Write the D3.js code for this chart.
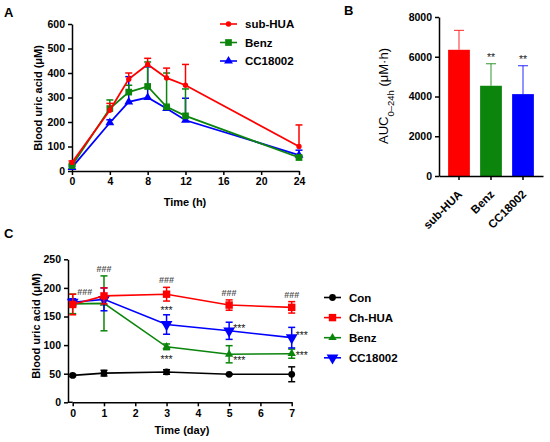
<!DOCTYPE html>
<html lang="en">
<head>
  <meta charset="utf-8">
  <script src="https://d3js.org/d3.v7.min.js"></script>
  <style>
    body { margin: 0; background: #fff; }
    svg text { font-family: "Liberation Sans", Arial, sans-serif; }
    .axis path, .axis line { stroke: #000; stroke-width: 1.5px; }
    .axis text { font-weight: bold; font-size: 10.5px; fill: #000; }
    .title { font-weight: bold; font-size: 11px; }
    .panel { font-weight: bold; font-size: 13px; }
    .legend { font-weight: bold; font-size: 11.5px; }
    .hash { font-size: 9px; fill: #555; font-weight: bold; }
    .star { font-size: 10.5px; fill: #222; }
  </style>
</head>
<body>
<svg id="chart" width="550" height="442"></svg>

<script>
  // ---- panel A data: blood uric acid over 24 h ----
  var aTime = [0, 4, 6, 8, 10, 12, 24];
  var aSubHUA = [35, 248, 375, 435, 380, 350, 100];
  var aSubHUAErr = [6, 28, 25, 25, 40, 85, 88];
  var aBenz = [22, 255, 322, 345, 262, 225, 55];
  var aBenzErr = [5, 35, 28, 100, 138, 110, 8];
  var aCC = [15, 197, 282, 300, 255, 207, 65];
  var aCCErr = [5, 12, 103, 125, 8, 90, 20];
  var aXTicks = [0, 4, 8, 12, 16, 20, 24];
  var aYTicks = [0, 100, 200, 300, 400, 500, 600];

  // ---- panel B data: AUC 0-24h ----
  var bGroups = ["sub-HUA", "Benz", "CC18002"];
  var bAUC = [6350, 4540, 4120];
  var bAUCErr = [975, 1110, 1430];
  var bStars = ["", "**", "**"];
  var bYTicks = [0, 2000, 4000, 6000, 8000];

  // ---- panel C data: 7-day treatment ----
  var cDays = [0, 1, 3, 5, 7];
  var cCon = [47, 51, 53, 49, 49];
  var cConErr = [2, 5, 4, 1, 13];
  var cHUA = [171, 186, 189, 170, 166];
  var cHUAErr = [18, 14, 12, 9, 10];
  var cBenz = [172, 173, 97, 84, 85];
  var cBenzErr = [17, 48, 5, 15, 8];
  var cCC = [175, 180, 136, 125, 113];
  var cCCErr = [6, 20, 17, 15, 18];
  var cXTicks = [0, 1, 2, 3, 4, 5, 6, 7];
  var cYTicks = [0, 50, 100, 150, 200, 250];

  var RED = "#ff0000", GREEN = "#0b850b", BLUE = "#0000ff", BLACK = "#000000";

  var svg = d3.select("#chart");
  var fmt = d3.format("d");

  function marker(type, size) {
    if (type === "tridown") return d3.symbol().type(d3.symbolTriangle).size(size)();
    return d3.symbol().type(type).size(size)();
  }

  // draw a series with line, error bars and markers
  function drawSeries(g, x, y, xs, ys, errs, opt) {
    var pts = xs.map(function(d, i) { return {x: d, y: ys[i], e: errs[i]}; });
    g.append("path")
      .datum(pts)
      .attr("fill", "none")
      .attr("stroke", opt.color)
      .attr("stroke-width", opt.lw || 1.6)
      .attr("d", d3.line().x(function(d) { return x(d.x); }).y(function(d) { return y(d.y); }));

    var eb = g.selectAll(null).data(pts).enter().append("g")
      .attr("stroke", opt.color).attr("stroke-width", 1.5);
    eb.append("line")
      .attr("x1", function(d) { return x(d.x); })
      .attr("x2", function(d) { return x(d.x); })
      .attr("y1", function(d) { return y(opt.upOnly ? d.y : d.y - d.e); })
      .attr("y2", function(d) { return y(d.y + d.e); });
    eb.append("line")
      .attr("x1", function(d) { return x(d.x) - 3.5; })
      .attr("x2", function(d) { return x(d.x) + 3.5; })
      .attr("y1", function(d) { return y(d.y + d.e); })
      .attr("y2", function(d) { return y(d.y + d.e); });
    if (!opt.upOnly) {
      eb.append("line")
        .attr("x1", function(d) { return x(d.x) - 3.5; })
        .attr("x2", function(d) { return x(d.x) + 3.5; })
        .attr("y1", function(d) { return y(d.y - d.e); })
        .attr("y2", function(d) { return y(d.y - d.e); });
    }

    g.selectAll(null).data(pts).enter().append("path")
      .attr("d", marker(opt.symbol, opt.size))
      .attr("fill", opt.color)
      .attr("transform", function(d) {
        return "translate(" + x(d.x) + "," + y(d.y) + ")" + (opt.symbol === "tridown" ? " rotate(180)" : "");
      });
  }

  function legend(g, items, x0, y0, dy) {
    items.forEach(function(it, i) {
      var yy = y0 + i * dy;
      g.append("line").attr("x1", x0).attr("x2", x0 + 17).attr("y1", yy).attr("y2", yy)
        .attr("stroke", it.color).attr("stroke-width", 1.6);
      g.append("path").attr("d", marker(it.symbol, it.size)).attr("fill", it.color)
        .attr("transform", "translate(" + (x0 + 8.5) + "," + yy + ")" + (it.symbol === "tridown" ? " rotate(180)" : ""));
      g.append("text").attr("class", "legend").attr("x", x0 + 25).attr("y", yy + 4).text(it.name);
    });
  }

  // ================= Panel A =================
  var ax = d3.scaleLinear().domain([0, 24]).range([72, 299]);
  var ay = d3.scaleLinear().domain([0, 600]).range([171, 24]);
  var gA = svg.append("g");

  gA.append("g").attr("class", "axis").attr("transform", "translate(0,171)")
    .call(d3.axisBottom(ax).tickValues(aXTicks).tickFormat(fmt).tickSize(4).tickSizeOuter(0));
  gA.append("g").attr("class", "axis").attr("transform", "translate(72,0)")
    .call(d3.axisLeft(ay).tickValues(aYTicks).tickFormat(fmt).tickSize(4).tickSizeOuter(0));

  drawSeries(gA, ax, ay, aTime, aCC, aCCErr, {color: BLUE, symbol: d3.symbolTriangle, size: 34, upOnly: true, lw: 1.8});
  drawSeries(gA, ax, ay, aTime, aBenz, aBenzErr, {color: GREEN, symbol: d3.symbolSquare, size: 45, upOnly: true, lw: 1.8});
  drawSeries(gA, ax, ay, aTime, aSubHUA, aSubHUAErr, {color: RED, symbol: d3.symbolCircle, size: 22, upOnly: true, lw: 1.8});

  gA.append("text").attr("class", "title").attr("x", 185).attr("y", 206)
    .attr("text-anchor", "middle").text("Time (h)");
  gA.append("text").attr("class", "title").attr("text-anchor", "middle")
    .attr("transform", "translate(42,98) rotate(-90)").text("Blood uric acid (μM)");
  gA.append("text").attr("class", "panel").attr("x", 4).attr("y", 17).text("A");

  legend(gA, [
    {name: "sub-HUA", color: RED, symbol: d3.symbolCircle, size: 22},
    {name: "Benz", color: GREEN, symbol: d3.symbolSquare, size: 45},
    {name: "CC18002", color: BLUE, symbol: d3.symbolTriangle, size: 34}
  ], 220, 24, 18.5);

  // ================= Panel B =================
  var bx = d3.scaleBand().domain(bGroups).range([439, 543]).paddingInner(0.32).paddingOuter(0.285);
  var by = d3.scaleLinear().domain([0, 8000]).range([176, 17]);
  var bColors = [RED, GREEN, BLUE];
  var gB = svg.append("g");

  gB.selectAll(null).data(bGroups).enter().append("line")
    .attr("x1", function(d) { return bx(d) + bx.bandwidth() / 2; })
    .attr("x2", function(d) { return bx(d) + bx.bandwidth() / 2; })
    .attr("y1", function(d, i) { return by(bAUC[i]); })
    .attr("y2", function(d, i) { return by(bAUC[i] + bAUCErr[i]); })
    .attr("stroke", function(d, i) { return bColors[i]; }).attr("stroke-width", 1.2).attr("opacity", 0.7);
  gB.selectAll(null).data(bGroups).enter().append("line")
    .attr("x1", function(d) { return bx(d) + bx.bandwidth() / 2 - 5; })
    .attr("x2", function(d) { return bx(d) + bx.bandwidth() / 2 + 5; })
    .attr("y1", function(d, i) { return by(bAUC[i] + bAUCErr[i]); })
    .attr("y2", function(d, i) { return by(bAUC[i] + bAUCErr[i]); })
    .attr("stroke", function(d, i) { return bColors[i]; }).attr("stroke-width", 1.2).attr("opacity", 0.7);

  gB.selectAll(null).data(bGroups).enter().append("rect")
    .attr("x", function(d) { return bx(d); })
    .attr("width", bx.bandwidth())
    .attr("y", function(d, i) { return by(bAUC[i]); })
    .attr("height", function(d, i) { return by(0) - by(bAUC[i]); })
    .attr("fill", function(d, i) { return bColors[i]; });

  gB.selectAll(null).data(bGroups).enter().append("text")
    .attr("class", "star").attr("text-anchor", "middle")
    .attr("x", function(d) { return bx(d) + bx.bandwidth() / 2; })
    .attr("y", function(d, i) { return by(bAUC[i] + bAUCErr[i]) - 3; })
    .text(function(d, i) { return bStars[i]; });

  gB.append("g").attr("class", "axis").attr("transform", "translate(0,176)")
    .call(d3.axisBottom(bx).tickSize(4).tickSizeOuter(0))
    .selectAll("text")
    .attr("text-anchor", "end")
    .attr("x", 0).attr("y", 0).attr("dy", 0)
    .attr("transform", "translate(4,19) rotate(-45)")
    .style("font-size", "11.5px");
  gB.append("g").attr("class", "axis").attr("transform", "translate(439,0)")
    .call(d3.axisLeft(by).tickValues(bYTicks).tickFormat(fmt).tickSize(4).tickSizeOuter(0));

  var bt = gB.append("text").attr("text-anchor", "middle")
    .attr("transform", "translate(388,96) rotate(-90)").style("font-size", "13px");
  bt.append("tspan").text("AUC");
  bt.append("tspan").attr("baseline-shift", "sub").style("font-size", "9.5px").text("0–24h");
  bt.append("tspan").text(" (μM·h)");
  gB.append("text").attr("class", "panel").attr("x", 344).attr("y", 15).text("B");

  // ================= Panel C =================
  var cx = d3.scaleLinear().domain([0, 7]).range([72.7, 291.7]);
  var cy = d3.scaleLinear().domain([0, 250]).range([402.3, 259.3]);
  var gC = svg.append("g");

  gC.append("line").attr("x1", 68).attr("x2", cx(0)).attr("y1", 402.3).attr("y2", 402.3)
    .attr("stroke", "#000").attr("stroke-width", 1.5);
  gC.append("g").attr("class", "axis").attr("transform", "translate(0,402.3)")
    .call(d3.axisBottom(cx).tickValues(cXTicks).tickFormat(fmt).tickSize(4).tickSizeOuter(0));
  gC.append("g").attr("class", "axis").attr("transform", "translate(68,0)")
    .call(d3.axisLeft(cy).tickValues(cYTicks).tickFormat(fmt).tickSize(4).tickSizeOuter(0));

  drawSeries(gC, cx, cy, cDays, cCon, cConErr, {color: BLACK, symbol: d3.symbolCircle, size: 36});
  drawSeries(gC, cx, cy, cDays, cBenz, cBenzErr, {color: GREEN, symbol: d3.symbolTriangle, size: 30});
  drawSeries(gC, cx, cy, cDays, cCC, cCCErr, {color: BLUE, symbol: "tridown", size: 60});
  drawSeries(gC, cx, cy, cDays, cHUA, cHUAErr, {color: RED, symbol: d3.symbolSquare, size: 55});

  // ### marks: above the highest cap, first one beside the point
  cDays.forEach(function(d, i) {
    var top = Math.max(cHUA[i] + cHUAErr[i], cBenz[i] + cBenzErr[i], cCC[i] + cCCErr[i]);
    var px = i === 0 ? cx(d) + 12 : cx(d);
    var py = i === 0 ? cy(cHUA[i] + cHUAErr[i]) + 1 : cy(top) - 4;
    gC.append("text").attr("class", "hash").attr("text-anchor", "middle")
      .attr("x", px).attr("y", py).text("###");
  });

  // *** marks for Benz and CC18002
  [2, 3, 4].forEach(function(i) {
    var d = cDays[i];
    if (i === 2) {
      gC.append("text").attr("class", "star").attr("text-anchor", "middle")
        .attr("x", cx(d)).attr("y", cy(cCC[i] + cCCErr[i]) - 1).text("***");
      gC.append("text").attr("class", "star").attr("text-anchor", "middle")
        .attr("x", cx(d)).attr("y", cy(cBenz[i] - cBenzErr[i]) + 13).text("***");
    } else {
      gC.append("text").attr("class", "star")
        .attr("x", cx(d) + 4).attr("y", cy(cCC[i]) + 1).text("***");
      gC.append("text").attr("class", "star")
        .attr("x", cx(d) + 4).attr("y", cy(cBenz[i]) + (i === 3 ? 10 : 5)).text("***");
    }
  });

  gC.append("text").attr("class", "title").attr("x", 182).attr("y", 434)
    .attr("text-anchor", "middle").text("Time (day)");
  gC.append("text").attr("class", "title").attr("text-anchor", "middle")
    .attr("transform", "translate(40,326) rotate(-90)").text("Blood uric acid (μM)");
  gC.append("text").attr("class", "panel").attr("x", 4).attr("y", 238).text("C");

  legend(gC, [
    {name: "Con", color: BLACK, symbol: d3.symbolCircle, size: 36},
    {name: "Ch-HUA", color: RED, symbol: d3.symbolSquare, size: 55},
    {name: "Benz", color: GREEN, symbol: d3.symbolTriangle, size: 30},
    {name: "CC18002", color: BLUE, symbol: "tridown", size: 60}
  ], 324, 297.5, 20.1);
</script>
</body>
</html>
